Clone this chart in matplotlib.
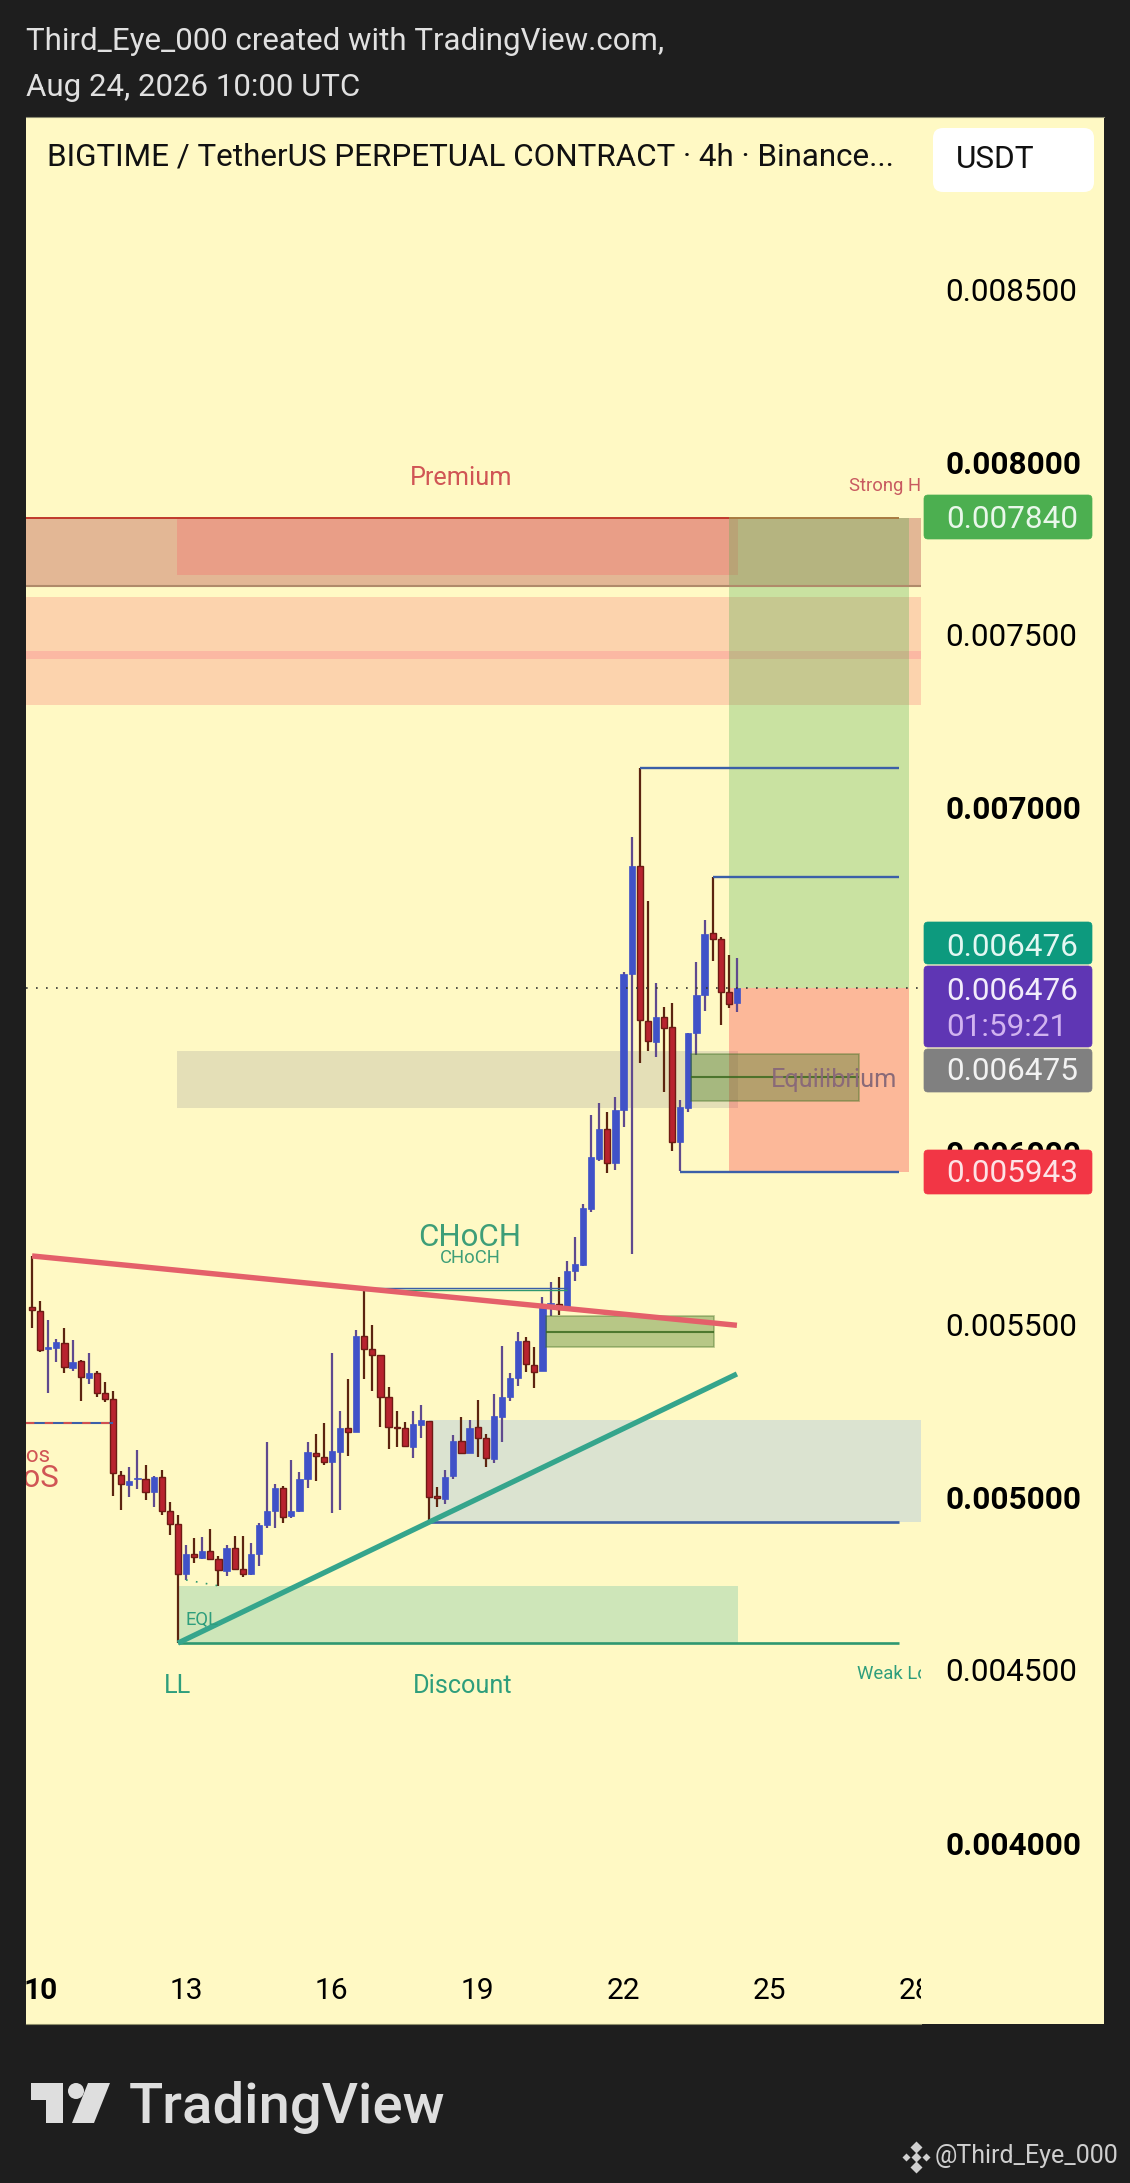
import numpy as np
import matplotlib
matplotlib.use("Agg")
import matplotlib.pyplot as plt
from matplotlib.patches import Rectangle, FancyBboxPatch, Polygon, Circle

plt.rcParams['font.family'] = ['Roboto', 'DejaVu Sans']

# ---- candle data, prices in millionths of USDT ----
highs = [5700,5569,5515,5458,5490,5457,5399,5418,5368,5334,5308,5078,5088,5138,5093,5063,5079,4986,4948,4861,4883,4885,
         4908,4831,4863,4889,4889,4867,4927,5161,5038,5033,5109,5074,5161,5184,5215,5418,5250,5344,5484,5603,5499,5412,
         5319,5250,5218,5250,5268,5223,5030,5080,5181,5232,5225,5283,5183,5299,5439,5362,5481,5466,5435,5580,5624,5639,
         5684,5754,5850,6109,6143,6117,6160,6522,6913,7113,6728,6490,6421,6434,6152,6347,6553,6674,6799,6624,6572,6563]
lows = [5492,5423,5302,5394,5360,5368,5281,5328,5292,5276,5005,4964,5002,5026,4994,4971,4950,4890,4577,4761,4809,4823,
        4819,4744,4771,4790,4769,4775,4802,4911,4911,4925,4940,4959,5028,5049,5094,4956,4964,5121,5189,5343,5310,5203,
        5140,5146,5147,5113,5171,4933,4972,4981,5053,5128,5130,5117,5089,5101,5162,5281,5324,5365,5318,5368,5527,5529,
        5543,5626,5672,5826,5976,5940,5948,6073,5706,6260,6295,6276,6176,6005,5945,6116,6283,6411,6556,6368,6420,6408]
body_tops = [5551,5540,5436,5450,5449,5394,5395,5360,5360,5302,5285,5066,5047,5057,5053,5058,5058,4962,4922,4836,4835,4844,
             4846,4823,4853,4853,4794,4835,4920,4962,5028,5027,4962,5053,5131,5130,5118,5134,5200,5201,5468,5468,5429,5412,
             5290,5205,5201,5212,5225,5223,5004,5060,5164,5163,5202,5203,5172,5236,5291,5347,5454,5453,5384,5561,5565,5561,
             5657,5676,5838,5987,6068,6067,6123,6517,6830,6830,6382,6392,6392,6363,6131,6347,6455,6632,6635,6618,6464,6476]
body_bottoms = [5543,5428,5431,5432,5377,5376,5348,5347,5302,5285,5070,5039,5037,5053,5017,5017,4962,4922,4777,4778,4827,4825,
                4823,4790,4788,4794,4777,4777,4835,4919,4962,4943,4945,4961,5053,5119,5104,5104,5131,5189,5189,5430,5412,5290,
                5203,5202,5149,5147,5210,5000,4998,4996,5061,5130,5130,5172,5114,5111,5234,5290,5347,5387,5365,5368,5561,5545,
                5545,5655,5674,5835,5981,5969,5969,6123,6516,6384,6322,6321,6361,6030,6030,6128,6345,6455,6620,6464,6430,6432]
rising = "RRBBRBRBRRRRBBRBRRRBRBRRBRRBBBBRBBBRRBBRBRRRRRRBBRRBBRBRRBBBBRRBBRBBBBBRBBBRRBRRBBBBRRRB"

price_ticks = [0.0040, 0.0045, 0.0050, 0.0055, 0.0060, 0.0065, 0.0070, 0.0075, 0.0080, 0.0085]
bold_ticks = [0.0040, 0.0050, 0.0060, 0.0070, 0.0080]
day_ticks = [10, 13, 16, 19, 22, 25, 28]

# zones: price bottom, price top
supply_outer = (0.007642, 0.007840)
supply_inner = (0.007675, 0.007840)
premium_band = (0.007297, 0.007610)
premium_mid = (0.007430, 0.007454)
equilibrium = (0.006129, 0.006294)
fvg_upper = (0.006150, 0.006285)
fvg_upper_mid = 0.006219
fvg_lower = (0.005436, 0.005527)
fvg_lower_mid = 0.005480
demand_blue = (0.004929, 0.005225)
discount = (0.004578, 0.004743)
entry_price = 0.006476
target_price = 0.007840
stop_price = 0.005943
swing_highs = [0.007114, 0.006799]
choch_level = 0.005604
bos_level = 0.005217
trend_red = (0.005700, 0.005499)
trend_green = (0.004578, 0.005358)
tag_texts = ["0.007840", "0.006476", "0.006476", "01:59:21", "0.006475", "0.005943"]

W, H = 1130, 2183
fig = plt.figure(figsize=(W/100, H/100), dpi=100, facecolor="#1e1e1e")

def rect(x0, y0, x1, y1):
    return [x0/W, 1-y1/H, (x1-x0)/W, (y1-y0)/H]

def overlay(z):
    a = fig.add_axes([0, 0, 1, 1], zorder=z)
    a.set_xlim(0, W); a.set_ylim(H, 0); a.axis("off")
    a.patch.set_alpha(0)
    return a

back = overlay(0)
back.add_patch(Rectangle((26, 117), 1078, 1907, fc="#fff9c4", ec="none"))
back.plot([26, 1104], [117, 117], color="#8a8a70", lw=0.8)

ax = fig.add_axes(rect(26, 117, 921, 2024), zorder=1)
ax.patch.set_alpha(0)
ax.set_xlim(9.708, 28.12)
ax.set_ylim(0.003474, 0.009001)
for s in ["top", "left", "right"]:
    ax.spines[s].set_visible(False)
ax.spines["bottom"].set_color("#8f8f6a")
ax.spines["bottom"].set_linewidth(0.8)

x = 13 + (np.arange(len(highs)) - 19) / 6
h = np.array(highs) * 1e-6; l = np.array(lows) * 1e-6
t = np.array(body_tops) * 1e-6; b = np.array(body_bottoms) * 1e-6
up = np.array([c == "B" for c in rising])

X0, X1 = ax.get_xlim()
def zone(x0, x1, yy, color, alpha, z=1.5, **kw):
    ax.add_patch(Rectangle((x0, yy[0]), x1-x0, yy[1]-yy[0], fc=color, alpha=alpha, ec="none", zorder=z, **kw))

zone(X0, X1, supply_outer, "#a5202b", 0.30)
zone(12.815, 24.36, supply_inner, "#f86567", 0.30)
zone(X0, X1, premium_band, "#f87e7b", 0.30)
zone(X0, X1, premium_mid, "#fa7a8d", 0.30)
zone(12.815, 24.36, equilibrium, "#787b86", 0.20)
zone(x[49], X1, demand_blue, "#73a5f4", 0.25)
zone(x[18], 24.36, discount, "#3fb19c", 0.25)
zone(24.17, 27.875, (entry_price, target_price), "#4caf50", 0.30, z=1.7)
zone(24.17, 27.875, (stop_price, entry_price), "#f82438", 0.30, z=1.7)

ax.hlines(supply_outer[1], X0, 24.17, color="#c0392b", lw=1.4, zorder=2)
ax.hlines(supply_outer[1], 24.17, 27.67, color="#a87a40", lw=1.4, zorder=2)
ax.hlines(supply_outer[0], X0, X1, color="#b08a6a", lw=1.5, zorder=2)

# candles
ax.vlines(x[up], l[up], h[up], color="#5f4a8e", lw=1.6, zorder=3)
ax.vlines(x[~up], l[~up], h[~up], color="#5c2410", lw=1.6, zorder=3)
bw = 6.2 / 48.6
ax.bar(x[up], t[up]-b[up], bottom=b[up], width=bw, color="#4052c8", edgecolor="#4052c8", lw=0.5, zorder=3.2)
ax.bar(x[~up], t[~up]-b[~up], bottom=b[~up], width=bw, color="#b8232f", edgecolor="#6e1a14", lw=1.0, zorder=3.2)

# FVG boxes
for x0, x1, yy, mid in [(20.41, 23.86, fvg_lower, fvg_lower_mid), (23.39, 26.85, fvg_upper, fvg_upper_mid)]:
    ax.add_patch(Rectangle((x0, yy[0]), x1-x0, yy[1]-yy[0], fc="#4b7e2b", alpha=0.4, ec="#3c6a20", lw=1.2, zorder=3.5))
    ax.hlines(mid, x0, x1, color="#3c6a20", lw=1.5, alpha=0.85, zorder=3.6)

# structure lines
line_blue = "#3b5fa8"
ax.hlines(swing_highs[0], x[75], 27.67, color=line_blue, lw=1.7, zorder=3.4)
ax.hlines(swing_highs[1], x[84], 27.67, color=line_blue, lw=1.7, zorder=3.4)
ax.hlines(stop_price, x[80], 27.67, color=line_blue, lw=1.7, zorder=3.4)
ax.hlines(demand_blue[0], x[49], 27.67, color=line_blue, lw=1.9, zorder=3.4)
ax.hlines(discount[0], x[18], 27.67, color="#2e9870", lw=1.9, zorder=3.4)
ax.hlines(choch_level - 0.000004, x[41], x[66], color="#2e9870", lw=1.0, zorder=3.4)
ax.hlines(choch_level + 0.000002, x[41], x[66], color=line_blue, lw=1.0, zorder=3.41)
ax.hlines(bos_level, X0, x[10], color=line_blue, lw=1.5, zorder=3.4)
ax.plot([X0, x[10]], [bos_level, bos_level], color="#d05050", lw=1.5, ls=(0, (4, 5)), zorder=3.41)
ax.plot([x[0], x[87]], trend_red, color="#e4606a", lw=3.9, solid_capstyle="butt", zorder=4)
ax.plot([x[18], x[87]], trend_green, color="#35a58c", lw=3.8, solid_capstyle="butt", zorder=4.1)
ax.hlines(entry_price, X0, X1, color="#333333", lw=1.2, ls=(0, (1, 5)), zorder=4)
ax.plot([x[19], x[23]], [l[19], l[23]], color="#2e9870", lw=1.2, ls=(0, (1, 5)), zorder=4)

def label(px, py, s, size, color, ha="center", **kw):
    return ax.text(px, py, s, fontsize=size, color=color, ha=ha, va="center", clip_on=True, zorder=5, **kw)

RED_T, GRN_T = "#d05555", "#2e9e7c"
label(18.66, 0.007954, "Premium", 18.2, RED_T)
label(26.64, 0.007931, "Strong High", 13.3, "#c85a60", ha="left")
label(18.70, 0.004455, "Discount", 18.2, GRN_T)
label(12.815, 0.004455, "LL", 18.2, GRN_T)
label(26.81, 0.004487, "Weak Low", 13.3, GRN_T, ha="left")
label(18.84, 0.005753, "CHoCH", 22.5, "#3d9e78")
label(18.84, 0.005694, "CHoCH", 13.3, "#3d9e78")
label(12.98, 0.004645, "EQL", 13.3, GRN_T, ha="left")
label(10.20, 0.005120, "Bos", 16, RED_T, ha="right")
label(10.39, 0.005056, "BoS", 22.5, RED_T, ha="right")
label(26.33, 0.006210, "Equilibrium", 18.2, "#8a6a78")

# axes ticks
ax.yaxis.tick_right()
ax.set_yticks(price_ticks)
ax.set_yticklabels([f"{v:.6f}" for v in price_ticks])
ax.tick_params(axis="y", length=0, pad=17.3, labelsize=22.7, labelcolor="#000000")
for lab, v in zip(ax.get_yticklabels(), price_ticks):
    if any(abs(v-k) < 1e-9 for k in bold_ticks):
        lab.set_fontweight("bold")
ax.set_xticks(day_ticks)
ax.set_xticklabels([str(d) for d in day_ticks])
ax.tick_params(axis="x", length=0, pad=-24, labelsize=21.5, labelcolor="#000000")
for lab, d in zip(ax.get_xticklabels(), day_ticks):
    lab.set_va("center")
    lab.set_clip_on(True)
    lab.set_clip_box(ax.bbox)
    if d == 10:
        lab.set_fontweight("bold")

# foreground chrome
fg = overlay(2)
tags = [(494, 540, "#4caf50"), (921, 965, "#0d9a7e"), (965, 1048, "#5f36b4"), (1048, 1093, "#808080"), (1149, 1195, "#f23645")]
for y0, y1, c in tags:
    fg.add_patch(FancyBboxPatch((924, y0+1), 168, y1-y0-2, boxstyle="round,pad=0,rounding_size=4", fc=c, ec=c, lw=0.5))
tag_pos = [(519, "#e9f7ea"), (947, "#e3f7f2"), (992, "#f2ecfb"), (1027, "#d1b3f0"), (1072, "#f2f2f2"), (1174, "#fde3e6")]
for (py, c), s in zip(tag_pos, tag_texts):
    fg.text(946, py, s, fontsize=22.7, color=c, ha="left", va="center")

fg.add_patch(FancyBboxPatch((933, 128), 161, 64, boxstyle="round,pad=0,rounding_size=10", fc="#ffffff", ec="none"))
fg.text(956, 159, "USDT", fontsize=22.7, color="#111111", ha="left", va="center")
fg.text(47, 157, "BIGTIME / TetherUS PERPETUAL CONTRACT · 4h · Binance...", fontsize=22.6, color="#111111", ha="left", va="center")
fg.text(26, 42, "Third_Eye_000 created with TradingView.com,", fontsize=22.5, color="#e0e0e0", ha="left", va="center")
fg.text(26, 87, "Aug 24, 2026 10:00 UTC", fontsize=22.5, color="#e0e0e0", ha="left", va="center")

# TradingView logo
logo = "#dedede"
fg.add_patch(Polygon([(31, 2083), (63, 2083), (63, 2123), (46, 2123), (46, 2100), (31, 2100)], fc=logo, ec="none"))
fg.add_patch(Circle((76, 2091), 8, fc=logo, ec="none"))
fg.add_patch(Polygon([(88, 2083), (110, 2083), (94, 2123), (72, 2123)], fc=logo, ec="none"))
fg.text(129, 2107, "TradingView", fontsize=40.5, fontweight="medium", color=logo, ha="left", va="center")

# Binance-style mark and watermark
for dx, dy, s in [(0, 0, 5), (0, -10, 6), (0, 10, 6), (-10, 0, 4), (10, 0, 4)]:
    fg.plot(916+dx, 2157+dy, marker="D", ms=s, color="#d0d0d0", mec="none", ls="none")
fg.text(935, 2156, "@Third_Eye_000", fontsize=18, color="#cfcfcf", ha="left", va="center")

fig.savefig("out.png", dpi=100, facecolor=fig.get_facecolor())
